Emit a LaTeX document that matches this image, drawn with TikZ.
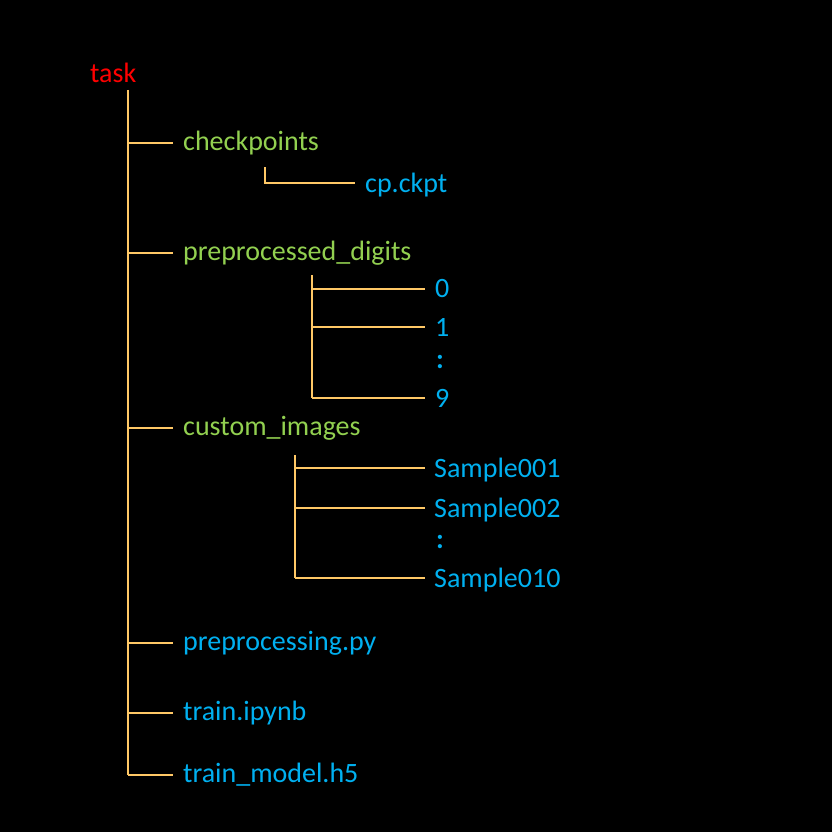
\documentclass[tikz,border=0pt]{standalone}
\usepackage{fontspec}
\setmainfont{Carlito}
\definecolor{tred}{HTML}{FF0000}
\definecolor{tgreen}{HTML}{92D050}
\definecolor{tblue}{HTML}{00B0F0}
\definecolor{tline}{HTML}{FFC866}
\begin{document}
\begin{tikzpicture}[x=1pt,y=-1pt,
  ln/.style={draw=tline,line width=1.5pt},
  lbl/.style={anchor=west,inner sep=0pt,font=\fontsize{28}{32}\selectfont},
  dir/.style={lbl,text=tgreen},
  fil/.style={lbl,text=tblue}]
\fill[black] (0,0) rectangle (832,832);
\useasboundingbox (0,0) rectangle (832,832);
\node[lbl,text=tred] (task) at (90,73) {task};
\coordinate (top) at (128,90);
\coordinate (bot) at (128,775);
\draw[ln] (top) -- (bot);
\foreach \y/\n/\t/\s in {143/chk/checkpoints/dir,253/pre/preprocessed\_digits/dir,428/cus/custom\_images/dir,643/pp/preprocessing.py/fil,713/tr/train.ipynb/fil,775/tm/train\_model.h5/fil}{
  \node[\s] (\n) at (183,\y) {\t};
  \coordinate (b\n) at (128,\y);
  \coordinate (e\n) at (173,\y);
  \draw[ln] (b\n) -- (e\n);
}
\node[fil] (cp) at (365,185) {cp.ckpt};
\coordinate (c1) at (265,167); \coordinate (c2) at (265,183);
\draw[ln] (c1) -- (c2) -- (355,183);
% preprocessed digits
\coordinate (p1) at (312,275); \coordinate (p2) at (312,398);
\draw[ln] (p1) -- (p2);
\foreach \y/\n/\t in {289/d0/0,327/d1/1,398/d9/9}{
  \node[fil] (\n) at (435,\y) {\t};
  \draw[ln] (312,\y) -- (425,\y);
}
\node[fil,font=\fontsize{28}{32}\selectfont\bfseries] (dd) at (436,362) {:};
% custom images
\coordinate (q1) at (295,455); \coordinate (q2) at (295,578);
\draw[ln] (q1) -- (q2);
\foreach \y/\n/\t in {468/s1/Sample001,508/s2/Sample002,578/s10/Sample010}{
  \node[fil] (\n) at (434,\y+2) {\t};
  \draw[ln] (295,\y) -- (425,\y);
}
\node[fil,font=\fontsize{28}{32}\selectfont\bfseries] (sd) at (436,542) {:};
\end{tikzpicture}
\end{document}
